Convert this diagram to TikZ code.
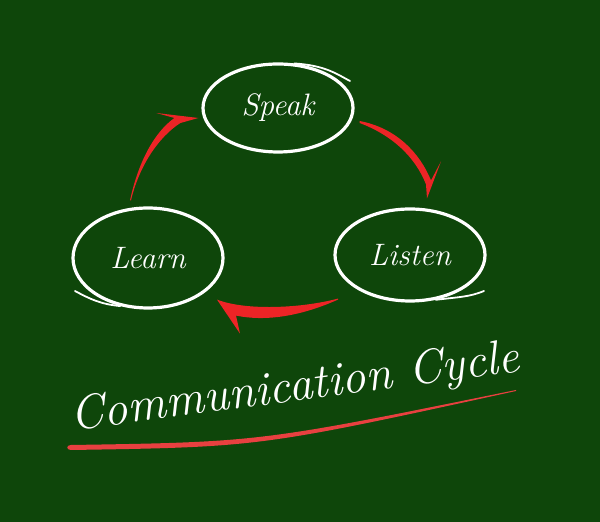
\documentclass[tikz,border=0pt]{standalone}
\usetikzlibrary{shapes.geometric}
\definecolor{board}{RGB}{14,70,10}
\definecolor{chalkred}{RGB}{236,36,38}
\definecolor{linered}{RGB}{232,64,64}

\begin{document}
\begin{tikzpicture}[x=0.5pt,y=0.5pt]
      \tikzset{bubble/.style={ellipse,draw=white,line width=1.6pt,minimum width=75pt,inner sep=0pt,
          text=white,font=\fontsize{15.5}{18}\selectfont\itshape},
        tail/.style={draw=white,line width=0.9pt,line cap=round},
        brush/.style={fill=chalkred}}
      \fill[board] (0,0) rectangle (600,-522);
      % the three steps
      \node[bubble,minimum height=44pt] (speak) at (278,-108) {Speak};
      \node[bubble,minimum height=46pt] (listen) at (410,-255) {Listen};
      \node[bubble,minimum height=50pt] (learn) at (148,-258) {Learn};
      \draw[tail] (speak.70) .. controls +(30,-2) and +(-15,8) .. ([shift={(72,27)}]speak.center);
      \draw[tail] (learn.240) .. controls +(-20,2) and +(15,-8) .. ([shift={(-73,-33)}]learn.center);
      \draw[tail] (listen.300) .. controls +(25,3) and +(-15,-6) .. ([shift={(74,-36)}]listen.center);
      % arrows
      \coordinate (t1) at ([shift={(-18,6)}]learn.north);
      \coordinate (h1) at ([shift={(-3,-10)}]speak.west);
      \coordinate (t2) at ([shift={(5,-13)}]speak.east);
      \coordinate (h2) at ([shift={(17,9)}]listen.north);
      \coordinate (t3) at ([shift={(-72,3)}]listen.south);
      \coordinate (h3) at ([shift={(69,10)}]learn.south);
      \fill[brush] (t1) .. controls +(8,37) and +(-21,-15) .. ([shift={(-24,0)}]h1)
        -- ([shift={(-42,5)}]h1) -- (h1) -- ([shift={(-18,-5)}]h1)
        .. controls +(-22,-14) and +(8,34) .. ([shift={(1,0)}]t1) -- cycle;
      \fill[brush] (t2) .. controls +(37,-7) and +(-11,27) .. ([shift={(4,18)}]h2)
        -- ([shift={(14,37)}]h2) -- (h2) -- ([shift={(-1,14)}]h2)
        .. controls +(-11,28) and +(32,-12) .. ([shift={(0,-2)}]t2) -- cycle;
      \fill[brush] (t3) .. controls +(-38,-17) and +(29,-6) .. ([shift={(19,-16)}]h3)
        -- ([shift={(23,-34)}]h3) -- (h3)
        .. controls +(28,-11) and +(-38,-10) .. ([shift={(0,1)}]t3) -- cycle;
      % title
      \node[text=white,font=\fontsize{24}{28}\selectfont\itshape,rotate=7.5] (title) at (295,-389) {Communication Cycle};
      \fill[linered] (516,-390) .. controls (260,-442) .. (71,-445)
        .. controls (66,-445) and (66,-450) .. (71,-450)
        .. controls (260,-447) .. (516,-391) -- cycle;
\end{tikzpicture}
\end{document}
